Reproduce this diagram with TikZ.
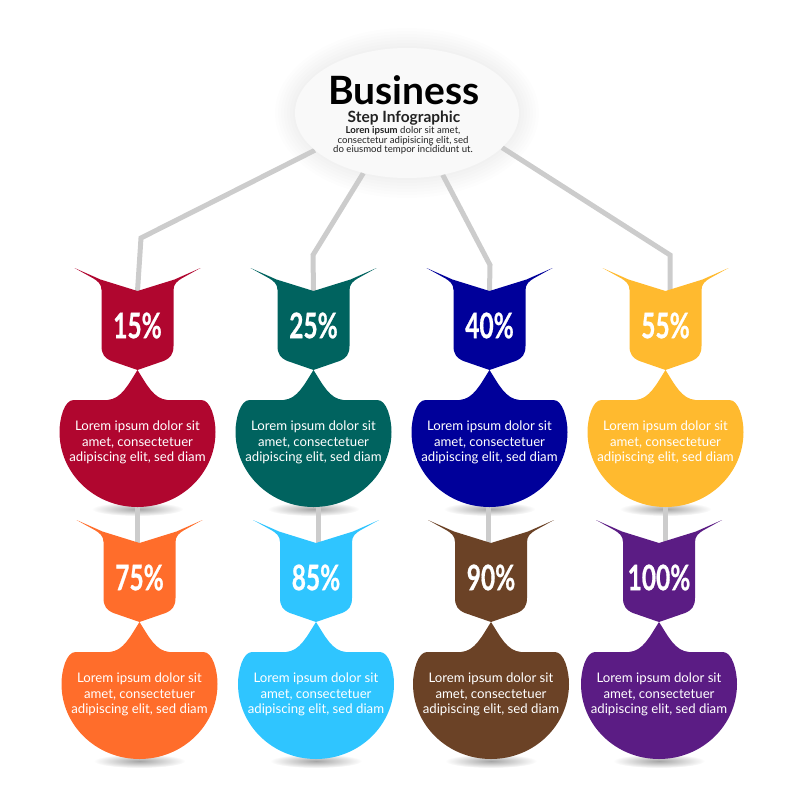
\documentclass[tikz,border=0pt]{standalone}
\usepackage{fontspec}
\usepackage{graphicx}
\setmainfont{Lato}
\newfontfamily\pctfont[BoldFeatures={FakeBold=0.8}]{Lato}
\usetikzlibrary{backgrounds,shapes.geometric}

\definecolor{stepred}{HTML}{B0062F}
\definecolor{stepteal}{HTML}{00635F}
\definecolor{stepnavy}{HTML}{00009A}
\definecolor{stepyellow}{HTML}{FFBA2F}
\definecolor{steporange}{HTML}{FF6D2B}
\definecolor{stepsky}{HTML}{2FC5FF}
\definecolor{stepbrown}{HTML}{6B4226}
\definecolor{steppurple}{HTML}{5B1C84}
\definecolor{linkgrey}{HTML}{CCCCCC}
\definecolor{hubgrey}{HTML}{F9F9F9}
\definecolor{inkgrey}{HTML}{222222}

\tikzset{
  link/.style={draw=linkgrey, line width=5pt},
  hubtext/.style={anchor=base, inner sep=0pt, text=inkgrey},
  pcttext/.style={text=white, font=\fontsize{35}{35}\pctfont\bfseries},
  bodytext/.style={text=white, align=center, font=\fontsize{13.2}{15.7}\selectfont},
}

% name, x, y of the tips, colour, percent
\newcommand{\stepitem}[5]{
  \begin{pgfonlayer}{background}
    \shade[inner color=black!35, outer color=white] (#2,#3+241) ellipse[x radius=46, y radius=7];
  \end{pgfonlayer}
  \begin{scope}[shift={(#2,#3)}]
    \fill[#4] (-63,0) -- (-37,11.5) -- (0,23) -- (37,11.5) -- (63,0) -- (44,10.5) .. controls (40,13) and (36,16) .. (36,22) -- (36,78)
      .. controls (36,86) and (33,90) .. (26,93) -- (0,102) -- (-26,93)
      .. controls (-33,90) and (-36,86) .. (-36,78) -- (-36,22) .. controls (-36,16) and (-40,13) .. (-44,10.5) -- cycle;
    \fill[#4] (0,102) .. controls (9,116) and (16,131) .. (30,132) -- (64,132)
      .. controls (73,132) and (78,150) .. (78,164) arc[start angle=0, end angle=180, x radius=78, y radius=75]
      .. controls (-78,150) and (-73,132) .. (-64,132) -- (-30,132) .. controls (-16,131) and (-9,116) .. (0,102) -- cycle;
    \coordinate (notch#1) at (0,23);
    \coordinate (base#1) at (0,239);
    \node[pcttext] (pct#1) at (0,57.5) {\scalebox{.7}[1]{#5}};
    \node[bodytext] (txt#1) at (0,174.5) {Lorem ipsum dolor sit\\amet, consectetuer\\adipiscing elit, sed diam};
  \end{scope}
}

\begin{document}
\begin{tikzpicture}[x=1pt, y=-1pt]
  \useasboundingbox (0,0) rectangle (800,800);

  \begin{pgfonlayer}{background}
    \foreach \grow in {20,17,14,11,8,5,2}
      \fill[black, opacity=.009] (407,113) ellipse[x radius=112+\grow, y radius=65+\grow];
  \end{pgfonlayer}
  \node[ellipse, fill=hubgrey, inner sep=0pt, minimum width=224pt, minimum height=130pt] (hub) at (407,113) {};
  \node[hubtext, text=black, font=\fontsize{39}{39}\selectfont\bfseries] (title) at (404,104) {Business};
  \node[hubtext, font=\fontsize{15.5}{15.5}\selectfont\bfseries] (subtitle) at (404,122) {Step Infographic};
  \node[hubtext, font=\fontsize{9.6}{9.6}\selectfont] (lineone) at (403,133) {\textbf{Loren ipsum} dolor sit amet,};
  \node[hubtext, font=\fontsize{9.6}{9.6}\selectfont] (linetwo) at (403,143) {consectetur adipisicing elit, sed};
  \node[hubtext, font=\fontsize{9.6}{9.6}\selectfont] (linethree) at (403,152.5) {do eiusmod tempor incididunt ut.};

  \stepitem{A}{137.5}{268}{stepred}{15\%}
  \stepitem{B}{313.5}{268}{stepteal}{25\%}
  \stepitem{C}{489.5}{268}{stepnavy}{40\%}
  \stepitem{D}{665.5}{268}{stepyellow}{55\%}
  \stepitem{E}{139.5}{520}{steporange}{75\%}
  \stepitem{F}{316}{520}{stepsky}{85\%}
  \stepitem{G}{491}{520}{stepbrown}{90\%}
  \stepitem{H}{659}{520}{steppurple}{100\%}

  \begin{pgfonlayer}{background}
    \draw[link] (hub.202) -- (141,238) -- (notchA);
    \draw[link] (hub.234) -- (313,255) -- (notchB);
    \draw[link] (hub.300) -- (490,265) -- (notchC);
    \draw[link] (hub.340) -- (670,255) -- ([xshift=4.5pt]notchD);
    \draw[link] (baseA) -- (baseA |- notchE);
    \draw[link] ([xshift=4.5pt]baseB) -- ([xshift=4.5pt]baseB |- notchF);
    \draw[link] ([xshift=-1.5pt]baseC) -- ([xshift=-1.5pt]baseC |- notchG);
    \draw[link] (baseD) -- (baseD |- notchH);
  \end{pgfonlayer}
\end{tikzpicture}
\end{document}
